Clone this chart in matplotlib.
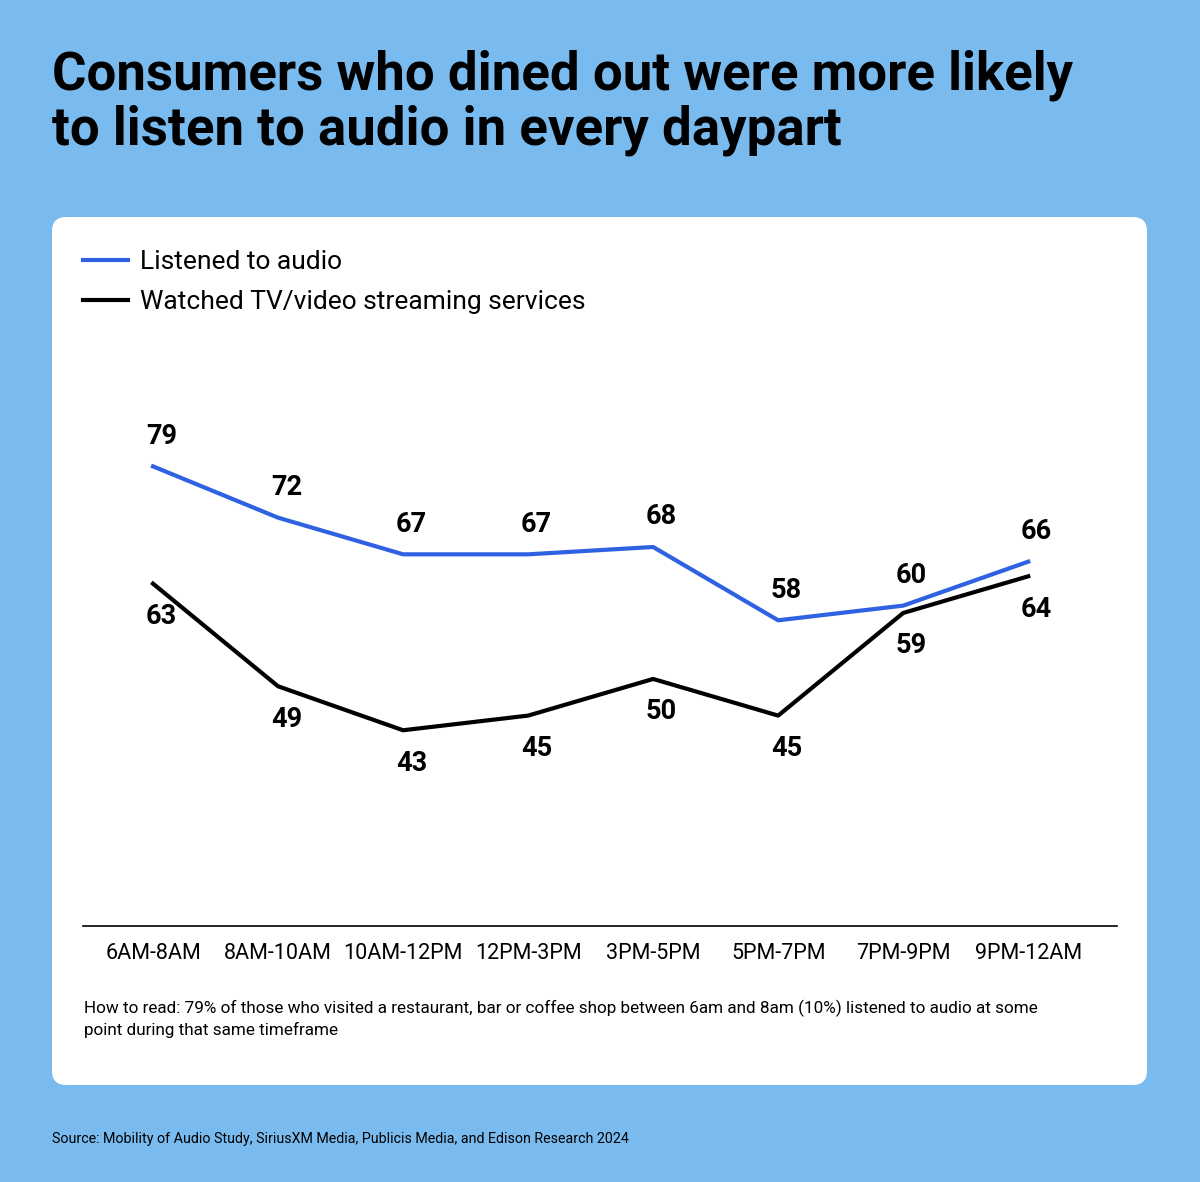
import matplotlib.pyplot as plt
from matplotlib.patches import FancyBboxPatch

W, H = 1200, 1182

dayparts = ["6AM-8AM", "8AM-10AM", "10AM-12PM", "12PM-3PM",
            "3PM-5PM", "5PM-7PM", "7PM-9PM", "9PM-12AM"]
audio = [79, 72, 67, 67, 68, 58, 60, 66]
video = [63, 49, 43, 45, 50, 45, 59, 64]

bg = "#7abbef"
blue = "#2f62e3"

plt.rcParams["font.family"] = ["Roboto", "DejaVu Sans"]

fig = plt.figure(figsize=(W / 100, H / 100), dpi=100, facecolor=bg)


def fx(px):
    return px / W


def fy(py):
    return 1 - py / H


# white card behind the chart
card = FancyBboxPatch((fx(52), fy(1085)), fx(1147) - fx(52), fy(217) - fy(1085),
                      boxstyle="round,pad=0,rounding_size=0.012",
                      transform=fig.transFigure, facecolor="white",
                      edgecolor="none", zorder=-1)
fig.patches.append(card)

fig.text(fx(52), fy(75), "Consumers who dined out were more likely",
         fontsize=38, fontweight="bold", va="center", ha="left")
fig.text(fx(52), fy(130), "to listen to audio in every daypart",
         fontsize=38, fontweight="bold", va="center", ha="left")

# axes: x from 83 to 1117 px, y from 330 to 926 px
ax = fig.add_axes([fx(83), fy(926), fx(1117) - fx(83), fy(330) - fy(926)])
ax.set_facecolor("none")
x = list(range(len(dayparts)))
ax.plot(x, audio, color=blue, lw=3, solid_joinstyle="round", label="Listened to audio")
ax.plot(x, video, color="black", lw=3, solid_joinstyle="round",
        label="Watched TV/video streaming services")
ax.set_xlim(-0.56, 7.71)
ax.set_ylim(16.3, 97.6)

for i in x:
    ax.annotate(str(audio[i]), (i, audio[i]), xytext=(6, 12), textcoords="offset points",
                ha="center", va="bottom", fontsize=19.5, fontweight="bold")
    ax.annotate(str(video[i]), (i, video[i]), xytext=(6, -14), textcoords="offset points",
                ha="center", va="top", fontsize=19.5, fontweight="bold")

for s in ["top", "right", "left"]:
    ax.spines[s].set_visible(False)
ax.spines["bottom"].set_linewidth(1.2)
ax.set_yticks([])
ax.set_xticks(x)
ax.set_xticklabels(dayparts, fontsize=15.5)
ax.tick_params(axis="x", length=0, pad=12)

ax.legend(loc="upper left", bbox_to_anchor=(fx(83), fy(250)),
          bbox_transform=fig.transFigure, frameon=False, fontsize=19,
          borderpad=0, borderaxespad=0,
          handlelength=1.7, handletextpad=0.45, labelspacing=0.6)

fig.text(fx(84), fy(1008), "How to read: 79% of those who visited a restaurant, bar or coffee shop "
         "between 6am and 8am (10%) listened to audio at some", fontsize=12.3, va="center")
fig.text(fx(84), fy(1030), "point during that same timeframe", fontsize=12.3, va="center")

fig.text(fx(52), fy(1139), "Source: Mobility of Audio Study, SiriusXM Media, Publicis Media, "
         "and Edison Research 2024", fontsize=10.3, va="center")

fig.savefig("out.png", dpi=100, facecolor=bg)
